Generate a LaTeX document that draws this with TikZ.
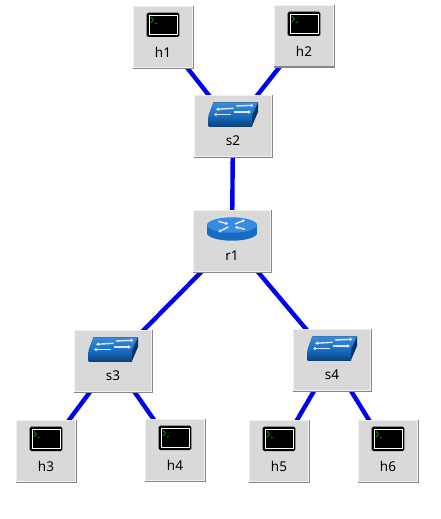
\documentclass[tikz,border=0pt]{standalone}
\usepackage{fontspec}
\setmainfont{Noto Sans}
\usepackage{xcolor}
\definecolor{boxgray}{RGB}{217, 217, 217}
\definecolor{boxlight}{RGB}{240, 240, 240}
\definecolor{boxdark}{RGB}{135, 135, 135}
\definecolor{linkblue}{RGB}{0, 0, 240}
\definecolor{ciscotop}{RGB}{55, 140, 225}
\definecolor{ciscomid}{RGB}{22, 108, 195}
\definecolor{ciscolow}{RGB}{14, 66, 125}
\definecolor{promptgreen}{RGB}{0, 190, 0}
\usetikzlibrary{arrows.meta,backgrounds}
\tikzset{
    devbox/.style={draw=boxlight, line width=1pt, fill=boxgray, minimum height=61pt, inner sep=0pt},
    hostbox/.style={devbox, minimum width=59pt},
    netbox/.style={devbox, minimum width=77pt},
    devlabel/.style={font=\fontsize{13.5}{15}\selectfont, text=black, inner sep=0pt},
    link/.style={draw=linkblue, line width=4.4pt},
    whitearrow/.style={-{Stealth[length=3pt,width=3.8pt]}, white!90!black, line width=1.4pt},
    hosticon/.pic={
        \fill[black, rounded corners=1.5pt] (-16.3,-24.3) rectangle (16.3,0);
        \draw[white, line width=0.9pt] (-14,-21.7) rectangle (14,-2.3);
        \draw[promptgreen, line width=0.6pt] (-12,-19.7) -- (-9.5,-17) -- (-12,-14) (-8.3,-13.7) -- (-6,-13.7);
    },
    switchicon/.pic={
        \fill[top color=ciscotop, bottom color=ciscomid] (-19.5,-23.7) -- (25,-23.7) -- (19,-10) -- (-24.5,-10) -- cycle;
        \fill[top color=ciscomid, bottom color=ciscolow] (-24.5,-10) -- (19,-10) -- (19,0) -- (-24.5,0) -- cycle;
        \fill[ciscolow!80!black] (19,-10) -- (25,-23.7) -- (25,-14) -- (19,0) -- cycle;
        \draw[whitearrow] (0.5,-17.7) -- (-17,-16.7);
        \draw[whitearrow] (3,-20) -- (20.5,-20.7);
        \draw[whitearrow] (-2,-11.5) -- (-19,-11.5);
        \draw[whitearrow] (0.5,-14) -- (18,-14);
    },
    routericon/.pic={
        \fill[ciscomid] (0,-8) ellipse [x radius=25pt, y radius=7.7pt];
        \fill[ciscomid] (-25,-16) rectangle (25,-8);
        \fill[ciscotop] (0,-16) ellipse [x radius=25pt, y radius=7.7pt];
        \draw[whitearrow] (-13.7,-19.7) -- (-3.7,-17);
        \draw[whitearrow] (-3.7,-14) -- (-13.7,-9);
        \draw[whitearrow] (3,-17) -- (13,-21);
        \draw[whitearrow] (13,-11.7) -- (3,-14);
    }
}

\begin{document}
\begin{tikzpicture}[x=1pt, y=-1pt]
    \useasboundingbox (0,0) rectangle (440,519);

    % Hosts
    \foreach \name/\x/\y in {h1/163/37, h2/304/36, h3/46/451, h4/175/450, h5/279/451, h6/388/451} {
        \node[hostbox] (\name) at (\x,\y) {};
        \draw[boxdark, line width=1pt] (\name.south west) -- (\name.south east) -- (\name.north east);
        \pic at (\name.center) {hosticon};
        \node[devlabel] (\name-text) at (\x,\y+15) {\name};
    }

    % Switches
    \foreach \name/\x/\y in {s2/233/126, s3/113/361, s4/332/360} {
        \node[netbox] (\name) at (\x,\y) {};
        \draw[boxdark, line width=1pt] (\name.south west) -- (\name.south east) -- (\name.north east);
        \pic at (\name.center) {switchicon};
        \node[devlabel] (\name-text) at (\x,\y+15) {\name};
    }

    % Router
    \node[netbox] (r1) at (232,241) {};
    \draw[boxdark, line width=1pt] (r1.south west) -- (r1.south east) -- (r1.north east);
    \pic at (r1.center) {routericon};
    \node[devlabel] (r1-text) at (232,256) {r1};

    % Links
    \begin{pgfonlayer}{background}
        \draw[link] (h1.center) -- (s2.center);
        \draw[link] (h2.center) -- (s2.center);
        \draw[link] (s2.center) -- (r1.center);
        \draw[link] (r1.center) -- (s3.center);
        \draw[link] (r1.center) -- (s4.center);
        \draw[link] (s3.center) -- (h3.center);
        \draw[link] (s3.center) -- (h4.center);
        \draw[link] (s4.center) -- (h5.center);
        \draw[link] (s4.center) -- (h6.center);
    \end{pgfonlayer}
\end{tikzpicture}
\end{document}
